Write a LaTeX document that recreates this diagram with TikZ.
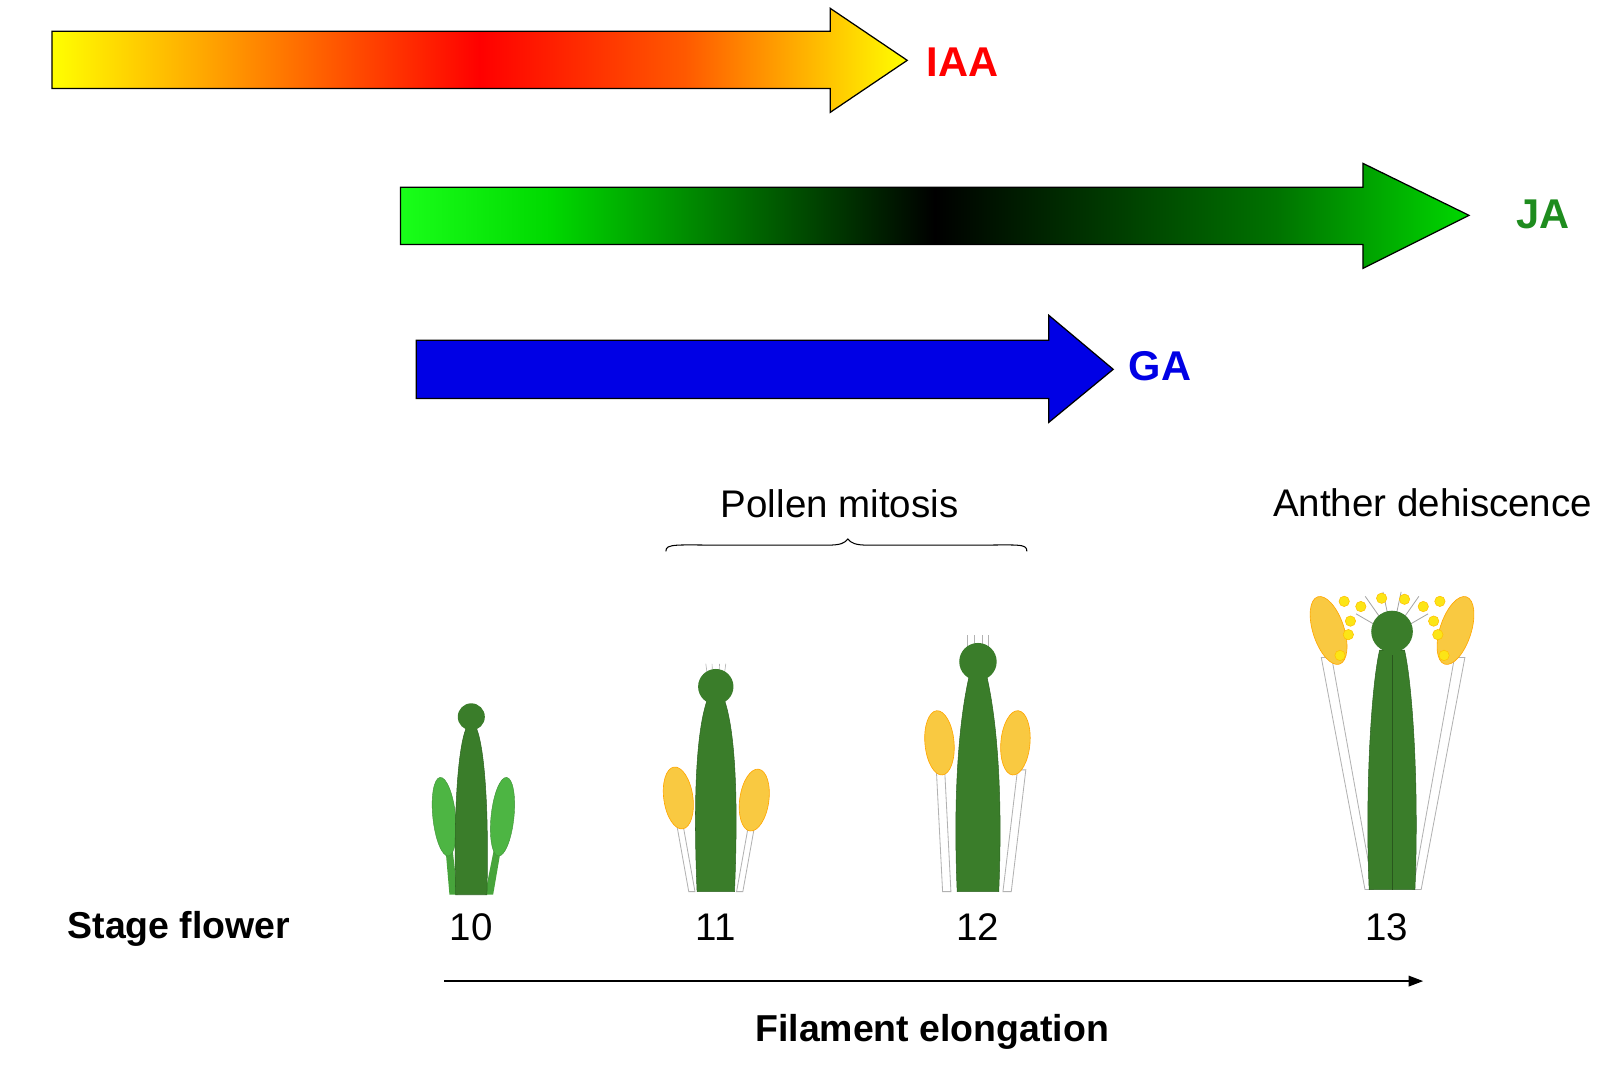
\documentclass[tikz,border=0pt]{standalone}
\usepackage{fontspec}
\setmainfont{Liberation Sans}
\usetikzlibrary{arrows.meta}
\pgfdeclarehorizontalshading{iaa}{100bp}{color(0bp)=(yellow);color(25bp)=(yellow);color(34bp)=(orange!70!yellow);color(50bp)=(red);color(62bp)=(orange!70!red);color(75bp)=(yellow);color(100bp)=(yellow)}
\pgfdeclarehorizontalshading{ja}{100bp}{color(0bp)=(green!90!white);color(25bp)=(green!90!white);color(32bp)=(green!85!black);color(50bp)=(black);color(66bp)=(green!45!black);color(75bp)=(green!85!black);color(100bp)=(green!85!black)}
\definecolor{dg}{HTML}{3A7D2A}
\definecolor{lg}{HTML}{4DB543}
\definecolor{yel}{HTML}{F9C941}
\definecolor{jacol}{HTML}{1E8C1E}
\tikzset{
 lab/.style={font=\bfseries\fontsize{40}{44}\selectfont,anchor=center},
 txt/.style={font=\fontsize{37}{42}\selectfont},
 btxt/.style={font=\bfseries\fontsize{36}{42}\selectfont},
 stem/.style={fill=dg,draw=dg!80!black,line width=0.5},
 anther/.style={fill=yel,draw=orange!70!yellow,line width=0.6},
 fil/.style={fill=white,draw=gray!60,line width=0.8},
 harrow/.style={draw=black,line width=1.2}
}
\begin{document}
\begin{tikzpicture}[x=1pt,y=-1pt]
\useasboundingbox (0,0) rectangle (1560,1038);
% IAA
\path[shading=iaa,harrow] (50,30) -- (798,30) -- (798,8) -- (872,58) -- (798,108) -- (798,85) -- (50,85) -- cycle;
\node[lab,text=red] (iaa) at (925,60) {IAA};
% JA
\path[shading=ja,harrow] (385,180) -- (1310,180) -- (1310,157) -- (1412,207) -- (1310,258) -- (1310,235) -- (385,235) -- cycle;
\node[lab,text=jacol] (ja) at (1483,206) {JA};
% GA
\path[fill=blue!90!black,harrow] (400,327) -- (1008,327) -- (1008,303) -- (1070,355) -- (1008,406) -- (1008,383) -- (400,383) -- cycle;
\node[lab,text=blue!90!black] (ga) at (1115,352) {GA};
% labels
\node[txt] (pm) at (807,484) {Pollen mitosis};
\draw[line width=1] (640,530) .. controls (640,522) and (650,524) .. (700,524) -- (795,524) .. controls (808,524) and (812,522) .. (815,518) .. controls (818,522) and (822,524) .. (835,524) -- (930,524) .. controls (980,524) and (987,522) .. (987,530);
\node[txt] (ad) at (1377,483) {Anther dehiscence};
\node[btxt] (sf) at (172,893) {Stage flower};
\node[txt] (n10) at (453,891) {10};
\node[txt] (n11) at (688,891) {11};
\node[txt] (n12) at (940,891) {12};
\node[txt] (n13) at (1333,891) {13};
\coordinate (fa) at (427,943);
\coordinate (fb) at (1368,943);
\draw[line width=2,-{Triangle[length=14,width=10]}] (fa) -- (fb);
\node[btxt] (fe) at (896,992) {Filament elongation};
% flower 10
\fill[lg!70!dg] (426,790) -- (432,860) -- (440,860) -- (432,790) -- cycle;
\fill[lg!70!dg] (480,790) -- (466,860) -- (474,860) -- (486,790) -- cycle;
\path[fill=lg,draw=lg!80!black,rotate around={6:(427,785)}] (427,785) ellipse (11 and 38);
\path[fill=lg,draw=lg!80!black,rotate around={-6:(483,785)}] (483,785) ellipse (11 and 38);
\path[stem] (438,860) .. controls (436,780) and (440,720) .. (448,700) -- (458,700) .. controls (466,720) and (470,780) .. (468,860) -- cycle;
\fill[dg] (453,689) circle (13);
% flower 11
\draw[fil] (650,790) -- (662,857) -- (668,857) -- (656,790) -- cycle;
\draw[fil] (720,790) -- (708,857) -- (714,857) -- (726,790) -- cycle;
\path[anther,rotate around={8:(652,767)}] (652,767) ellipse (14 and 30);
\path[anther,rotate around={-8:(725,769)}] (725,769) ellipse (14 and 30);
\path[stem] (670,857) .. controls (666,760) and (670,700) .. (680,672) -- (696,672) .. controls (706,700) and (710,760) .. (706,857) -- cycle;
\foreach \dx in {-8,-3,3,8} \draw[gray!60,line width=0.6] (688+\dx,650) -- (688+\dx*1.2,638);
\fill[dg] (688,660) circle (17);
% flower 12
\draw[fil] (900,740) -- (906,857) -- (914,857) -- (908,740) -- cycle;
\draw[fil] (978,740) -- (964,857) -- (972,857) -- (986,740) -- cycle;
\path[anther,rotate around={5:(903,714)}] (903,714) ellipse (14 and 31);
\path[anther,rotate around={-5:(976,714)}] (976,714) ellipse (14 and 31);
\path[stem] (920,857) .. controls (916,760) and (922,690) .. (932,648) -- (948,648) .. controls (958,690) and (964,760) .. (960,857) -- cycle;
\foreach \dx in {-10,-4,4,10} \draw[gray!60,line width=0.6] (940+\dx,630) -- (940+\dx,610);
\fill[dg] (940,636) circle (18);
% flower 13
\draw[fil] (1270,632) -- (1312,855) -- (1320,855) -- (1280,632) -- cycle;
\draw[fil] (1398,632) -- (1358,855) -- (1366,855) -- (1408,632) -- cycle;
\foreach \a/\l in {-60/40,-35/45,-12/42,12/42,35/45,60/40}
  \draw[gray!70,line width=0.8] (1338,610) -- ++(\a-90:\l);
\path[anther,rotate around={18:(1277,606)}] (1277,606) ellipse (15 and 34);
\path[anther,rotate around={-18:(1399,606)}] (1399,606) ellipse (15 and 34);
\foreach \p in {(1292,578),(1308,583),(1328,575),(1350,576),(1368,583),(1384,578),(1298,597),(1378,597),(1296,610),(1382,610),(1288,630),(1388,630)}
  \path[fill=yellow!70!yel,draw=orange!50!yellow,line width=0.5] \p circle (5);
\path[stem] (1316,855) .. controls (1312,760) and (1318,660) .. (1326,625) -- (1350,625) .. controls (1358,660) and (1364,760) .. (1360,855) -- cycle;
\draw[dg!70!black,line width=0.6] (1338,630) -- (1338,855);
\fill[dg] (1338,607) circle (20);
\end{tikzpicture}
\end{document}
